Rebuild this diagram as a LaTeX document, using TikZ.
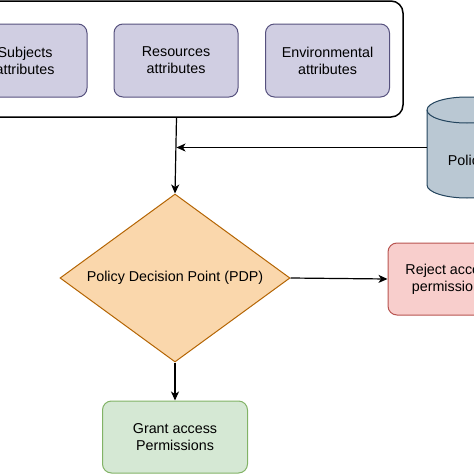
\documentclass[tikz,border=0pt]{standalone}
\usepackage{fontspec}
\setmainfont{Liberation Sans}
\usetikzlibrary{arrows.meta,shapes.geometric}
\definecolor{attrfill}{HTML}{D0CEE2}
\definecolor{attrline}{HTML}{56517E}
\definecolor{pdpfill}{HTML}{FAD7AC}
\definecolor{pdpline}{HTML}{B46504}
\definecolor{rejfill}{HTML}{F8CECC}
\definecolor{rejline}{HTML}{B85450}
\definecolor{grantfill}{HTML}{D5E8D4}
\definecolor{grantline}{HTML}{82B366}
\definecolor{dbfill}{HTML}{BAC8D3}
\definecolor{dbline}{HTML}{23445D}
\begin{document}
\begin{tikzpicture}[x=1pt,y=-1pt,
  every node/.style={font=\fontsize{14.3}{17}\selectfont,align=center,inner sep=0pt},
  attrbox/.style={draw=attrline,fill=attrfill,line width=1pt,rounded corners=9pt,minimum width=124pt,minimum height=73pt},
  flowbox/.style={line width=1pt,rounded corners=9pt,minimum height=72pt},
  link/.style={line width=1.2pt,-{Stealth[length=9pt,width=8pt,inset=2.5pt]}}]
  \useasboundingbox (0,0) rectangle (474,474);
  \clip (0,0) rectangle (474,474);
  \node[draw,line width=1.5pt,rounded corners=12pt,minimum width=453pt,minimum height=116pt] (attrs) at (176.5,59) {};
  \node[attrbox] (subj) at (25,60.5) {Subjects\\attributes};
  \node[attrbox] (res) at (176,60.5) {Resources\\attributes};
  \node[attrbox] (env) at (327.5,60.5) {Environmental\\attributes};
  \draw[draw=dbline,fill=dbfill,line width=1pt] (427,110) -- (427,185)
    arc[start angle=180,end angle=0,x radius=40,y radius=13] -- (507,110)
    arc[start angle=0,end angle=-180,x radius=40,y radius=13] -- cycle;
  \draw[draw=dbline,line width=1pt] (427,110) arc[start angle=180,end angle=0,x radius=40,y radius=13];
  \coordinate (policy) at (427,147.5);
  \node (policytext) at (467,162) {Policy};
  \node[diamond,aspect=1.37,draw=pdpline,fill=pdpfill,line width=1pt,minimum width=230pt,minimum height=168pt] (pdp) at (175,278) {Policy Decision Point (PDP)};
  \node[flowbox,draw=rejline,fill=rejfill,minimum width=124pt] (reject) at (450,279) {Reject access\\permissions};
  \node[flowbox,draw=grantline,fill=grantfill,minimum width=145pt] (grant) at (175,437) {Grant access\\Permissions};
  \draw[link] (attrs.south) -- (pdp.north);
  \draw[link] (policy) -- (policy -| attrs.south);
  \draw[link] (pdp.east) -- (reject.west);
  \draw[link] (pdp.south) -- (grant.north);
\end{tikzpicture}
\end{document}
